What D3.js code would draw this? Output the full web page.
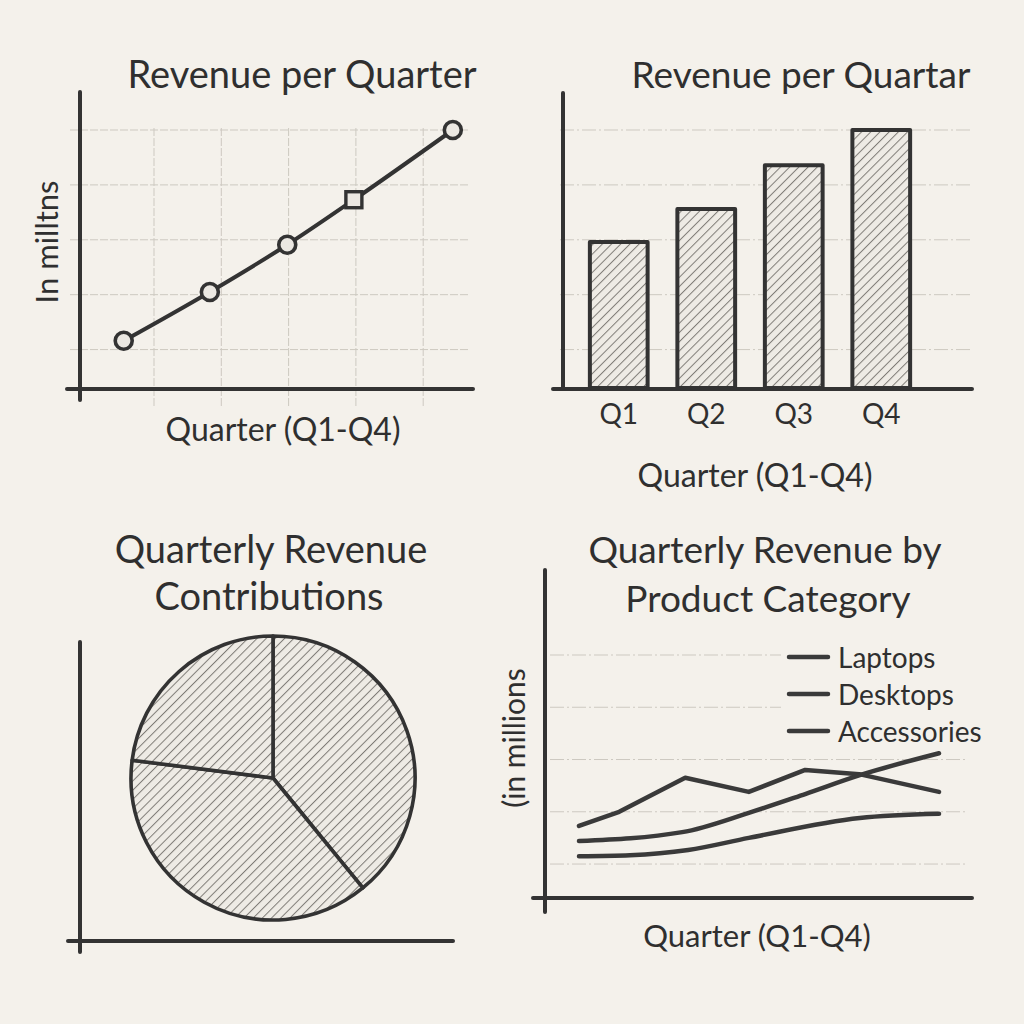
<!DOCTYPE html>
<html>
<head>
<meta charset="utf-8">
<script src="https://cdn.jsdelivr.net/npm/d3@7"></script>
<style>
  body { margin: 0; background: #f4f1eb; }
  svg { display: block; }
  text { font-family: Lato, "Noto Sans", sans-serif; fill: #2f2f2f; }
</style>
</head>
<body>
<svg width="1024" height="1024"></svg>
<script>
// ---- data ----
const quarters = ["Q1", "Q2", "Q3", "Q4"];

// panel 1: line with markers (x in grid units, y in millions)
const trendX = [0.55, 1.83, 2.98, 3.97, 5.44];
const trendY = [1.16, 2.05, 2.91, 3.73, 5.0];
const trendMarker = ["circle", "circle", "circle", "square", "circle"];

// panel 2: bars
const barValues = [2.96, 3.56, 4.36, 5.0];

// panel 3: pie shares
const pieValues = [39.1, 37.9, 23.0];

// panel 4: product categories
const categories = ["Laptops", "Desktops", "Accessories"];
const laptopsX = [0, 0.67, 1.77, 2.83, 3.77, 4.67, 6];
const laptopsY = [1.73, 2.0, 2.65, 2.38, 2.80, 2.72, 2.38];
const desktopsX = [0, 1.72, 2.83, 3.77, 4.68, 6];
const desktopsY = [1.44, 1.61, 1.98, 2.34, 2.70, 3.12];
const accessoriesX = [0, 0.85, 1.82, 2.83, 4.68, 6];
const accessoriesY = [1.15, 1.17, 1.27, 1.50, 1.88, 1.96];

const gridTicks = [1, 2, 3, 4, 5];

const svg = d3.select("svg");
const ink = "#333";
const gridColor = "#cdc9c1";

// hatch pattern
const defs = svg.append("defs");
defs.append("pattern")
  .attr("id", "hatch")
  .attr("patternUnits", "userSpaceOnUse")
  .attr("width", 6.5).attr("height", 6.5)
  .attr("patternTransform", "rotate(45)")
  .call(p => {
    p.append("rect").attr("width", 6.5).attr("height", 6.5).attr("fill", "#eeebe5");
    p.append("line").attr("x1", 0).attr("y1", 0).attr("x2", 0).attr("y2", 6.5)
      .attr("stroke", "#7f7c77").attr("stroke-width", 2);
  });

const axisLine = (g, x1, y1, x2, y2) => g.append("line")
  .attr("x1", x1).attr("y1", y1).attr("x2", x2).attr("y2", y2)
  .attr("stroke", ink).attr("stroke-width", 4).attr("stroke-linecap", "round");

// ================= panel 1 =================
{
  const g = svg.append("g");
  const x = d3.scaleLinear().domain([0, 1]).range([86.7, 154]);
  const y = d3.scaleLinear().domain([0.3, 5]).range([388, 130]);

  g.selectAll(".hg").data(gridTicks).join("line")
    .attr("x1", 70).attr("x2", 468)
    .attr("y1", d => y(d)).attr("y2", d => y(d))
    .attr("stroke", gridColor).attr("stroke-width", 1).attr("stroke-dasharray", "8 2");
  g.selectAll(".vg").data(gridTicks).join("line")
    .attr("x1", d => x(d)).attr("x2", d => x(d))
    .attr("y1", 128).attr("y2", 408)
    .attr("stroke", gridColor).attr("stroke-width", 1).attr("stroke-dasharray", "8 2");

  axisLine(g, 80, 92, 80, 400);
  axisLine(g, 67, 389, 473, 389);

  const pts = trendX.map((d, i) => ({ x: d, y: trendY[i], m: trendMarker[i] }));
  g.append("path").datum(pts)
    .attr("d", d3.line().x(d => x(d.x)).y(d => y(d.y)).curve(d3.curveMonotoneX))
    .attr("fill", "none").attr("stroke", ink).attr("stroke-width", 4);

  g.selectAll(".mk").data(pts.filter(d => d.m === "circle")).join("circle")
    .attr("cx", d => x(d.x)).attr("cy", d => y(d.y)).attr("r", 8.5)
    .attr("fill", "#ebe8e2").attr("stroke", ink).attr("stroke-width", 3.6);
  g.selectAll(".sq").data(pts.filter(d => d.m === "square")).join("rect")
    .attr("x", d => x(d.x) - 8).attr("y", d => y(d.y) - 8)
    .attr("width", 16).attr("height", 16)
    .attr("fill", "#ebe8e2").attr("stroke", ink).attr("stroke-width", 3.4);

  g.append("text").attr("x", 302).attr("y", 88).attr("text-anchor", "middle")
    .attr("font-size", 38).text("Revenue per Quarter");
  g.append("text").attr("x", 283).attr("y", 441).attr("text-anchor", "middle")
    .attr("font-size", 32).text("Quarter (Q1-Q4)");
  g.append("text").attr("transform", "translate(58,242) rotate(-90)")
    .attr("text-anchor", "middle").attr("font-size", 31).text("In milltns");
}

// ================= panel 2 =================
{
  const g = svg.append("g");
  const x = d3.scaleBand().domain(quarters).range([575, 925]).paddingInner(0.34).paddingOuter(0.17);
  const y = d3.scaleLinear().domain([0.3, 5]).range([388, 130]);

  g.selectAll(".hg").data(gridTicks).join("line")
    .attr("x1", 560).attr("x2", 970)
    .attr("y1", d => y(d)).attr("y2", d => y(d))
    .attr("stroke", gridColor).attr("stroke-width", 1).attr("stroke-dasharray", "14 3 2 3");

  axisLine(g, 563, 93, 563, 389);

  g.selectAll(".bar").data(barValues).join("rect")
    .attr("x", (d, i) => x(quarters[i])).attr("y", d => y(d))
    .attr("width", x.bandwidth()).attr("height", d => y(0.3) - y(d))
    .attr("fill", "url(#hatch)").attr("stroke", ink).attr("stroke-width", 4)
    .attr("stroke-linejoin", "round");

  axisLine(g, 553, 389, 972, 389);

  const xAxis = g.append("g").attr("transform", "translate(0,389)")
    .call(d3.axisBottom(x).tickSize(0).tickPadding(15));
  xAxis.select(".domain").remove();
  xAxis.selectAll("text").attr("font-size", 28).attr("font-family", "Lato, sans-serif").attr("fill", "#2f2f2f");

  g.append("text").attr("x", 801).attr("y", 88).attr("text-anchor", "middle")
    .attr("font-size", 37).text("Revenue per Quartar");
  g.append("text").attr("x", 755).attr("y", 487).attr("text-anchor", "middle")
    .attr("font-size", 32).text("Quarter (Q1-Q4)");
}

// ================= panel 3 =================
{
  const g = svg.append("g");
  axisLine(g, 80, 642, 80, 952);
  axisLine(g, 68, 941, 453, 941);

  const pie = d3.pie().sort(null)(pieValues);
  const arc = d3.arc().innerRadius(0).outerRadius(142);
  const pg = g.append("g").attr("transform", "translate(273,778)");
  pg.selectAll("path").data(pie).join("path")
    .attr("d", arc)
    .attr("fill", "url(#hatch)").attr("stroke", ink).attr("stroke-width", 3.6)
    .attr("stroke-linejoin", "round");

  g.append("text").attr("x", 271).attr("y", 563).attr("text-anchor", "middle")
    .attr("font-size", 38).text("Quarterly Revenue");
  g.append("text").attr("x", 269).attr("y", 610).attr("text-anchor", "middle")
    .attr("font-size", 38).text("Contributions");
}

// ================= panel 4 =================
{
  const g = svg.append("g");
  const x = d3.scaleLinear().domain([0, 6]).range([579, 939]);
  const y = d3.scaleLinear().domain([0.35, 5]).range([898, 655]);

  g.selectAll(".hg").data(gridTicks).join("line")
    .attr("x1", 550).attr("x2", 966)
    .attr("y1", d => y(d)).attr("y2", d => y(d))
    .attr("stroke", gridColor).attr("stroke-width", 1).attr("stroke-dasharray", "14 3 2 3");

  axisLine(g, 545, 570, 545, 912);
  axisLine(g, 533, 898, 972, 898);

  const series = [
    { name: categories[0], xs: laptopsX, ys: laptopsY, curve: d3.curveLinear },
    { name: categories[1], xs: desktopsX, ys: desktopsY, curve: d3.curveMonotoneX },
    { name: categories[2], xs: accessoriesX, ys: accessoriesY, curve: d3.curveMonotoneX }
  ];
  series.forEach(s => {
    const pts = s.xs.map((d, i) => [d, s.ys[i]]);
    g.append("path").datum(pts)
      .attr("d", d3.line().x(d => x(d[0])).y(d => y(d[1])).curve(s.curve))
      .attr("fill", "none").attr("stroke", "#3a3a3a").attr("stroke-width", 4.5)
      .attr("stroke-linejoin", "round").attr("stroke-linecap", "round");
  });

  // legend with paper background hiding grid
  const lg = g.append("g").attr("transform", "translate(789,657)");
  lg.append("rect").attr("x", -8).attr("y", -18).attr("width", 200).attr("height", 92)
    .attr("fill", "#f4f1eb");
  lg.selectAll("line").data(categories).join("line")
    .attr("x1", 0).attr("x2", 39)
    .attr("y1", (d, i) => i * 37).attr("y2", (d, i) => i * 37)
    .attr("stroke", "#3a3a3a").attr("stroke-width", 4.5).attr("stroke-linecap", "round");
  lg.selectAll("text").data(categories).join("text")
    .attr("x", 49).attr("y", (d, i) => i * 37 + 11)
    .attr("font-size", 28).text(d => d);

  g.append("text").attr("x", 765).attr("y", 563).attr("text-anchor", "middle")
    .attr("font-size", 37).text("Quarterly Revenue by");
  g.append("text").attr("x", 768).attr("y", 612).attr("text-anchor", "middle")
    .attr("font-size", 37).text("Product Category");
  g.append("text").attr("x", 757).attr("y", 947).attr("text-anchor", "middle")
    .attr("font-size", 31).text("Quarter (Q1-Q4)");
  g.append("text").attr("transform", "translate(525,738) rotate(-90)")
    .attr("text-anchor", "middle").attr("font-size", 30).text("(in millions");
}
</script>
</body>
</html>
